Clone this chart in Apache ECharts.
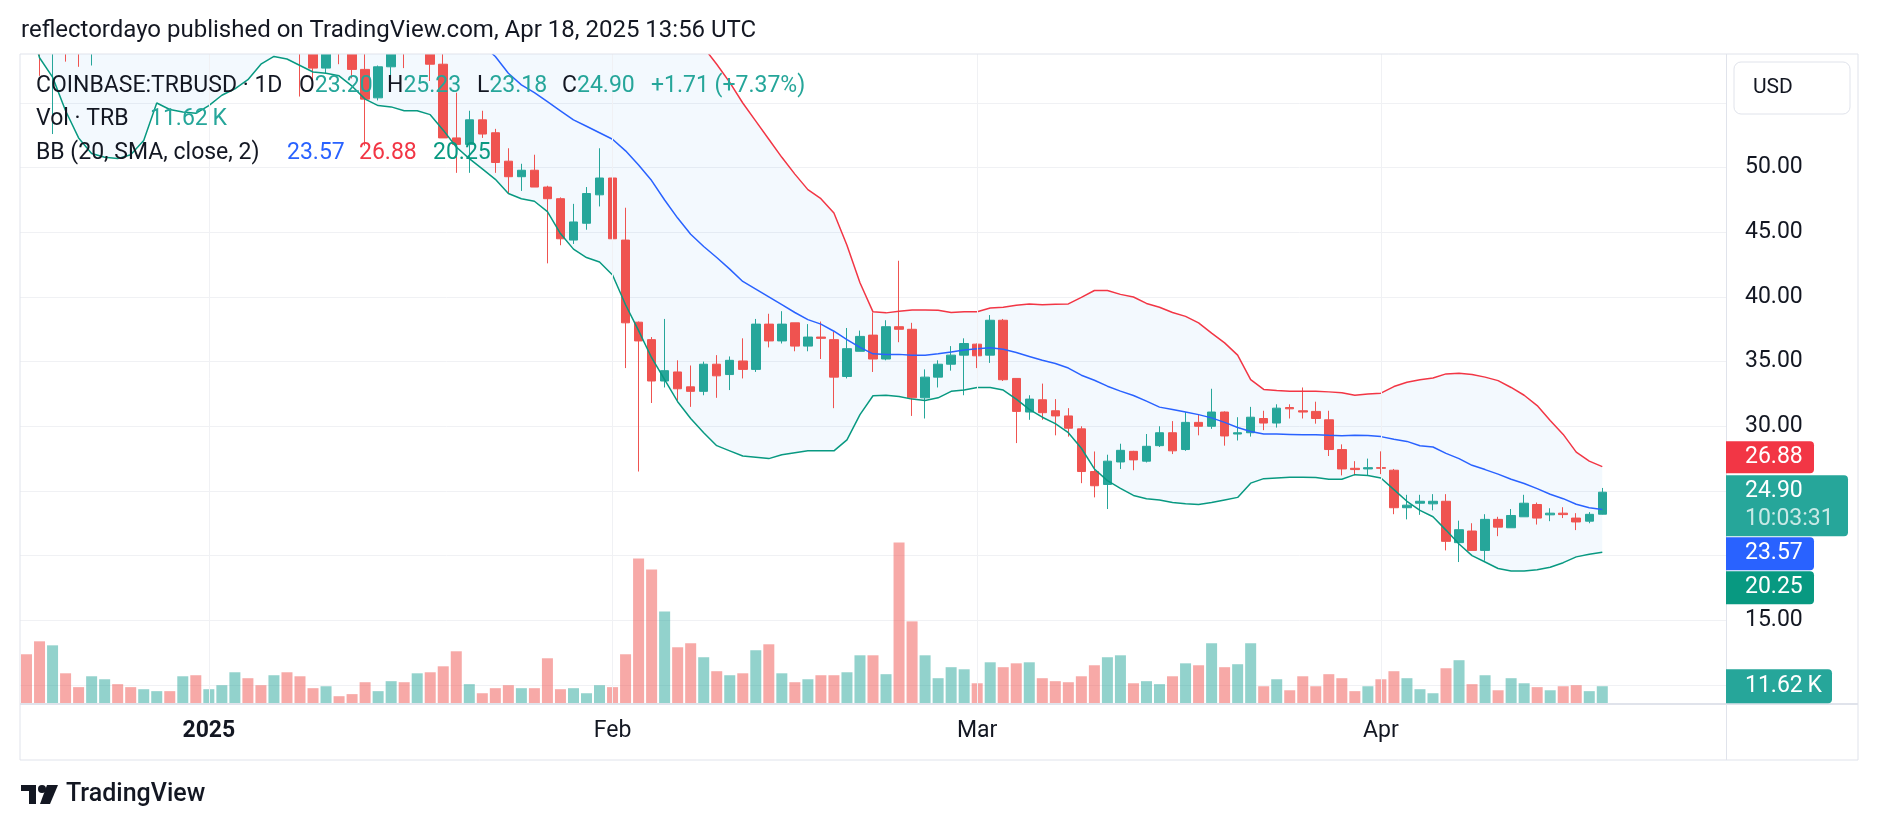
<!DOCTYPE html>
<html>
<head>
<meta charset="utf-8">
<script src="https://cdn.jsdelivr.net/npm/echarts@6/dist/echarts.min.js"></script>
<style>
html,body{margin:0;padding:0;background:#fff;}
#chart{width:1878px;height:830px;}
</style>
</head>
<body>
<div id="chart"></div>
<script>
// COINBASE:TRBUSD 1D, first candle 2024-12-18, last 2025-04-18
const firstDay = '2024-12-18';
const emptyDays = 9;

// candles (the first ~20 sit above the visible price range and get clipped)
const opens = [
  64.0, 61.0, 60.2, 62.0, 60.0, 59.3, 61.5, 63.0, 61.2, 60.3,      // Dec 18
  62.0, 62.8, 61.5, 63.0, 61.8, 62.5, 65.0, 67.0, 64.0, 62.5,      // Dec 28
  63.5, 61.0, 59.3, 57.7, 59.2, 59.0, 57.6, 55.4, 57.8, 59.8,      // Jan 7
  59.0, 60.8, 58.0, 52.3, 51.8, 53.7, 52.7, 50.5, 49.3, 49.8,      // Jan 17
  48.5, 47.6, 44.4, 45.7, 47.9, 49.2, 44.4, 38.05, 36.7, 33.5,     // Jan 27
  34.2, 33.05, 32.7, 34.8, 34.0, 35.05, 34.4, 37.9, 36.6, 38.0,    // Feb 6
  36.2, 36.9, 36.7, 33.85, 35.8, 37.05, 35.2, 37.7, 37.5, 32.2,    // Feb 16
  33.8, 34.8, 35.5, 36.35, 35.5, 38.2, 33.7, 31.1, 32.05, 31.2,    // Feb 26
  30.8, 29.8, 26.5, 25.5, 27.24, 28.06, 27.3, 28.5, 29.5, 28.2,    // Mar 8
  30.3, 30.0, 31.1, 29.4, 29.5, 30.6, 30.25, 31.45, 31.2, 31.15,   // Mar 18
  30.5, 28.2, 26.75, 26.7, 26.8, 26.6, 23.7, 24.05, 24.0, 24.2,    // Mar 28
  21.0, 21.9, 20.4, 22.8, 22.15, 23.0, 23.95, 23.15, 23.28, 22.9,  // Apr 7
  22.66, 23.20
];
const highs = [
  66.5, 62.5, 63.5, 63.0, 61.0, 62.5, 64.0, 63.8, 62.0, 62.5,
  63.5, 63.2, 63.5, 63.8, 63.0, 66.0, 68.0, 67.5, 65.0, 64.5,
  64.5, 62.0, 60.0, 59.5, 59.8, 59.5, 59.5, 57.9, 60.5, 60.3,
  61.5, 61.2, 59.5, 55.8, 54.4, 54.4, 53.0, 51.5, 50.3, 51.0,
  48.6, 47.7, 47.2, 48.5, 51.5, 50.5, 46.9, 38.1, 36.9, 38.3,
  35.1, 34.7, 35.0, 35.5, 35.4, 36.8, 38.3, 38.7, 38.9, 38.0,
  37.9, 38.1, 37.3, 37.6, 37.4, 38.8, 38.2, 42.8, 38.0, 34.4,
  35.1, 36.2, 36.8, 36.4, 38.6, 38.3, 33.7, 32.4, 33.3, 32.1,
  31.4, 30.0, 28.05, 27.8, 28.65, 28.1, 29.4, 30.0, 30.4, 31.1,
  30.9, 32.9, 31.15, 30.7, 31.5, 31.2, 31.7, 31.7, 33.0, 31.9,
  31.2, 28.6, 27.3, 27.5, 28.06, 26.7, 24.7, 24.7, 24.75, 24.75,
  22.7, 22.5, 23.2, 23.0, 23.6, 24.7, 24.1, 23.66, 23.74, 23.28,
  23.36, 25.23
];
const lows = [
  60.0, 57.1, 52.6, 58.2, 57.8, 57.9, 60.0, 60.5, 59.5, 59.6,
  61.0, 60.8, 61.0, 61.0, 60.5, 62.0, 64.0, 63.5, 61.5, 61.0,
  60.0, 55.5, 56.7, 57.3, 58.0, 56.9, 51.7, 55.2, 56.9, 57.7,
  58.9, 56.7, 52.3, 49.6, 49.6, 52.3, 49.6, 48.0, 48.2, 48.5,
  42.6, 44.0, 44.1, 45.2, 47.0, 44.2, 34.5, 26.5, 31.8, 33.0,
  32.0, 31.5, 32.4, 32.2, 32.8, 33.7, 34.2, 36.1, 36.4, 35.8,
  35.8, 35.2, 31.4, 33.7, 35.8, 34.2, 35.1, 36.5, 30.8, 30.6,
  33.0, 34.3, 32.4, 34.5, 34.9, 33.5, 28.7, 30.5, 30.5, 29.3,
  29.2, 25.6, 24.5, 23.6, 26.7, 26.6, 27.2, 28.4, 27.85, 28.1,
  29.3, 29.8, 28.5, 28.9, 29.2, 29.7, 29.9, 30.6, 30.6, 30.2,
  27.7, 26.2, 26.2, 26.2, 26.3, 23.2, 22.8, 23.15, 23.5, 20.4,
  19.5, 20.37, 19.6, 21.5, 22.15, 23.0, 22.4, 22.66, 22.9, 21.97,
  22.5, 23.18
];
const closes = [
  61.0, 60.2, 62.0, 60.0, 59.3, 61.5, 63.0, 61.2, 60.3, 62.0,
  62.8, 61.5, 63.0, 61.8, 62.5, 65.0, 67.0, 64.0, 62.5, 63.5,
  61.0, 59.3, 57.7, 59.2, 59.0, 57.6, 55.3, 57.8, 59.8, 59.0,
  60.8, 58.0, 52.3, 51.8, 53.7, 52.6, 50.4, 49.3, 49.8, 48.5,
  47.6, 44.5, 45.8, 48.0, 49.2, 44.5, 38.0, 36.6, 33.5, 34.3,
  32.9, 32.7, 34.8, 33.9, 35.1, 34.4, 37.9, 36.6, 37.9, 36.2,
  36.9, 36.8, 33.8, 36.0, 36.95, 35.2, 37.7, 37.5, 32.2, 33.8,
  34.8, 35.5, 36.4, 35.45, 38.2, 33.6, 31.15, 32.1, 31.05, 30.8,
  29.85, 26.5, 25.4, 27.3, 28.14, 27.4, 28.45, 29.5, 28.1, 30.3,
  30.0, 31.1, 29.25, 29.5, 30.7, 30.25, 31.4, 31.35, 31.1, 30.6,
  28.2, 26.7, 26.65, 26.8, 26.75, 23.7, 23.9, 24.2, 24.2, 21.1,
  22.0, 20.4, 22.8, 22.2, 23.1, 24.05, 22.9, 23.28, 23.17, 22.6,
  23.19, 24.90
];
// volume, thousands of TRB
const volumes = [
  33.1, 41.8, 39.1, 20.3, 11.0, 18.3, 16.3, 13.0, 11.0, 9.6,
  8.3, 8.3, 18.3, 19.0, 9.6, 12.3, 21.0, 17.0, 12.3, 19.0,
  21.0, 18.3, 10.3, 11.6, 4.9, 6.3, 14.3, 8.3, 15.0, 14.3,
  20.3, 21.0, 25.0, 35.1, 13.0, 6.9, 10.3, 12.3, 10.3, 10.3,
  30.4, 9.6, 10.3, 6.9, 12.3, 11.0, 33.1, 97.4, 90.1, 61.9,
  37.8, 40.5, 31.1, 21.7, 19.0, 20.3, 35.8, 39.8, 20.3, 14.3,
  16.3, 19.0, 19.0, 21.0, 32.4, 32.4, 19.7, 108.2, 55.2, 32.4,
  17.0, 24.4, 23.0, 13.6, 27.7, 24.4, 27.0, 27.7, 17.0, 15.0,
  14.3, 18.3, 25.7, 31.1, 32.4, 13.6, 15.0, 13.0, 18.3, 27.0,
  25.7, 40.5, 24.4, 26.4, 40.5, 11.6, 16.3, 8.9, 18.3, 11.6,
  19.7, 17.0, 8.3, 11.6, 16.3, 21.7, 17.0, 9.6, 6.9, 23.7,
  29.1, 13.0, 19.0, 8.9, 17.0, 13.6, 11.0, 8.9, 11.6, 12.3,
  8.3, 11.62
];
// Bollinger bands (20, SMA, close, 2) as drawn
const bbUpper = [
  72.0, 72.5, 73.0, 73.2, 73.0, 72.6, 72.2, 71.8, 71.5, 71.2,
  70.0, 69.8, 69.6, 69.4, 69.0, 68.6, 68.4, 68.3, 68.2, 68.0,
  67.8, 67.6, 67.4, 67.2, 67.0, 66.9, 66.8, 66.7, 66.6, 66.5,
  66.4, 66.3, 66.2, 66.0, 65.8, 65.6, 65.4, 65.2, 65.0, 64.8,
  64.6, 64.4, 64.2, 64.0, 63.7, 63.4, 63.1, 62.7, 62.3, 61.8,
  61.2, 60.6, 59.3, 58.0, 56.6, 55.0, 53.6, 52.2, 50.8, 49.5,
  48.3, 47.6, 46.5, 44.0, 41.1, 38.85, 38.77, 38.9, 39.0, 39.0,
  38.97, 38.8, 38.85, 38.85, 39.15, 39.2, 39.36, 39.46, 39.4, 39.44,
  39.46, 39.97, 40.5, 40.5, 40.2, 40.0, 39.5, 39.2, 38.8, 38.5,
  38.0, 37.2, 36.45, 35.5, 33.6, 32.85, 32.76, 32.7, 32.7, 32.7,
  32.66, 32.6, 32.4, 32.5, 32.56, 33.07, 33.4, 33.6, 33.74, 34.05,
  34.1, 34.0, 33.8, 33.53, 33.0, 32.4, 31.6, 30.45, 29.37, 28.0,
  27.3, 26.88
];
const bbBasis = [
  66.5, 66.3, 66.0, 65.6, 65.2, 64.9, 64.6, 64.3, 64.0, 63.8,
  63.9, 63.7, 63.5, 63.3, 63.1, 63.0, 63.0, 62.9, 62.8, 62.7,
  62.6, 62.4, 62.2, 62.0, 61.8, 61.6, 61.4, 61.2, 61.0, 60.9,
  60.8, 60.7, 60.4, 60.0, 59.9, 59.5, 58.6, 57.3, 56.4, 55.8,
  55.1, 54.4, 53.7, 53.2, 52.7, 52.2, 51.3, 50.2, 49.0, 47.5,
  46.1, 44.85, 43.9, 43.05, 42.15, 41.2, 40.6, 40.0, 39.4, 38.8,
  38.25, 37.9, 37.35, 36.7, 36.1, 35.6, 35.56, 35.56, 35.5, 35.5,
  35.6, 35.74, 35.9, 36.0, 36.08, 35.95, 35.7, 35.4, 35.1, 34.85,
  34.5, 33.95, 33.56, 33.1, 32.72, 32.38, 31.94, 31.48, 31.3, 31.1,
  30.9, 30.65, 30.3, 29.9, 29.6, 29.4, 29.4, 29.37, 29.34, 29.34,
  29.3, 29.27, 29.3, 29.28, 29.2, 29.0, 28.83, 28.5, 28.4, 27.9,
  27.5, 26.98, 26.65, 26.3, 25.9, 25.57, 25.18, 24.74, 24.4, 23.97,
  23.7, 23.57
];
const bbLower = [
  62.0, 58.5, 57.0, 54.4, 52.3, 51.1, 50.8, 50.7, 51.0, 52.1,
  55.0, 54.5, 54.3, 54.2, 54.8, 55.6, 56.1, 56.8, 58.0, 58.6,
  58.4, 57.9, 57.4, 57.3, 57.1, 56.3, 55.3, 54.8, 54.7, 54.4,
  54.4, 54.1, 52.9, 51.6, 50.7, 49.9, 49.1, 48.0, 47.6, 47.4,
  46.6, 44.9, 43.7, 43.05, 42.7, 41.7, 39.4, 37.4, 35.3, 33.6,
  31.9, 30.6, 29.5, 28.5, 28.1, 27.7, 27.6, 27.5, 27.8, 27.95,
  28.1, 28.1, 28.1, 28.95, 30.9, 32.36, 32.4, 32.3, 32.1, 32.0,
  32.2, 32.7, 32.8, 33.0, 33.0, 32.8, 32.1, 31.3, 30.7, 30.2,
  29.5, 28.3, 26.7, 25.8, 25.2, 24.65, 24.4, 24.3, 24.1, 24.0,
  23.95, 24.1, 24.3, 24.5, 25.6, 25.95, 26.0, 26.05, 26.05, 26.03,
  25.9, 25.9, 26.26, 26.2, 26.0, 25.1, 24.2, 23.5, 23.0, 21.97,
  20.9, 20.0, 19.5, 19.0, 18.8, 18.8, 18.9, 19.1, 19.45, 19.9,
  20.1, 20.25
];
const monthLabels = {'01': '2025', '02': 'Feb', '03': 'Mar', '04': 'Apr'};
const priceTicks = [10, 55];   // gridline range on the price scale

const upColor = '#26a69a';
const downColor = '#ef5350';
const gridColor = '#f0f1f4';
const textColor = '#131722';
const font = 'Roboto, "Noto Sans", sans-serif';

const dates = [];
const d0 = new Date(firstDay + 'T00:00:00Z');
for (let i = 0; i < opens.length + emptyDays; i++) {
  dates.push(new Date(d0.getTime() + i * 86400000).toISOString().slice(0, 10));
}
const isMonthStart = (v) => v.slice(8) === '01' && monthLabels[v.slice(5, 7)] && v.slice(0, 4) === '2025';

const candles = opens.map((o, i) => [o, closes[i], lows[i], highs[i]]);
const volBars = volumes.map((v, i) => ({
  value: v,
  itemStyle: {color: closes[i] >= opens[i] ? 'rgba(38,166,154,0.5)' : 'rgba(239,83,80,0.5)'}
}));
const bandWidth = bbUpper.map((u, i) => +(u - bbLower[i]).toFixed(3));

const n = opens.length;
const lastClose = closes[n - 1];
const change = lastClose - closes[n - 2];
const pct = change / closes[n - 2] * 100;

const plotLeft = 20, plotWidth = 1706, plotTop = 54, plotBottom = 703.5;

function xAxisFor(gridIndex, showLabels) {
  return {
    type: 'category', gridIndex: gridIndex, data: dates, boundaryGap: true,
    axisLine: {show: false}, axisTick: {show: false}, splitLine: {show: false},
    axisLabel: showLabels ? {
      show: true, margin: 16, fontFamily: font, fontSize: 23, color: textColor,
      interval: (idx, v) => !!isMonthStart(v),
      formatter: (v) => {
        const m = v.slice(5, 7);
        return m === '01' ? '{b|' + monthLabels[m] + '}' : monthLabels[m];
      },
      rich: {b: {fontWeight: 'bold', fontSize: 23, fontFamily: font, color: textColor}}
    } : {show: false}
  };
}

const option = {
  animation: false,
  backgroundColor: '#ffffff',
  grid: [
    {left: plotLeft, width: plotWidth, top: plotTop, height: plotBottom - plotTop},
    {left: plotLeft, width: plotWidth, top: plotBottom - 180, height: 180},
    {left: plotLeft, width: plotWidth, top: 103.05, height: 684.9 - 103.05}
  ],
  xAxis: [xAxisFor(0, true), xAxisFor(1, false), xAxisFor(2, false)],
  yAxis: [
    {type: 'value', gridIndex: 0, min: 8.56, max: 58.79, show: false},
    {type: 'value', gridIndex: 1, min: 0, max: 121, show: false},
    {type: 'value', gridIndex: 2, position: 'right', min: priceTicks[0], max: priceTicks[1], interval: 5,
     axisLine: {show: false}, axisTick: {show: false},
     splitLine: {show: true, lineStyle: {color: gridColor, width: 1}},
     axisLabel: {margin: 19, fontFamily: font, fontSize: 23, color: textColor,
                 formatter: (v) => v.toFixed(2)}}
  ],
  series: [
    {
      name: 'volume', type: 'bar', xAxisIndex: 1, yAxisIndex: 1,
      data: volBars, barWidth: 11, z: 1
    },
    {
      name: 'bbBase', type: 'line', xAxisIndex: 0, yAxisIndex: 0, stack: 'bb',
      data: bbLower, symbol: 'none', lineStyle: {opacity: 0}, z: 1, silent: true,
      markLine: {
        silent: true, symbol: ['none', 'none'], label: {show: false},
        lineStyle: {color: gridColor, type: 'solid', width: 1},
        data: dates.filter(isMonthStart).map((v) => ({xAxis: v}))
      }
    },
    {
      name: 'bbFill', type: 'line', xAxisIndex: 0, yAxisIndex: 0, stack: 'bb',
      data: bandWidth, symbol: 'none', lineStyle: {opacity: 0}, z: 1, silent: true,
      areaStyle: {color: 'rgba(33,150,243,0.055)', opacity: 1}
    },
    {
      name: 'price', type: 'candlestick', xAxisIndex: 0, yAxisIndex: 0,
      data: candles, barWidth: 9, z: 3, clip: true,
      itemStyle: {color: upColor, color0: downColor, borderColor: upColor, borderColor0: downColor, borderWidth: 1}
    },
    {
      name: 'upper', type: 'line', xAxisIndex: 0, yAxisIndex: 0, data: bbUpper,
      symbol: 'none', lineStyle: {color: '#f23645', width: 1.5}, z: 4, clip: true
    },
    {
      name: 'basis', type: 'line', xAxisIndex: 0, yAxisIndex: 0, data: bbBasis,
      symbol: 'none', lineStyle: {color: '#2962ff', width: 1.5}, z: 4, clip: true
    },
    {
      name: 'lower', type: 'line', xAxisIndex: 0, yAxisIndex: 0, data: bbLower,
      symbol: 'none', lineStyle: {color: '#089981', width: 1.5}, z: 4, clip: true
    }
  ]
};

const chart = echarts.init(document.getElementById('chart'), null, {renderer: 'canvas'});
chart.setOption(option);

// ---- overlay: frame, legend texts, price scale boxes, footer ----
const yPx = (v) => chart.convertToPixel({yAxisIndex: 0}, v);
const yVol = (v) => chart.convertToPixel({yAxisIndex: 1}, v);

function txt(x, y, text, color, size, extra, weight) {
  return Object.assign({
    type: 'text', x: x, y: y, z: 100,
    style: {text: text, fill: color, font: (weight || 'normal') + ' ' + (size || 23) + 'px ' + font, textVerticalAlign: 'middle'}
  }, extra || {});
}
function box(x, y, w, h, color, z) {
  return {type: 'rect', z: z || 110, shape: {x: x, y: y, width: w, height: h, r: [0, 4, 4, 0]}, style: {fill: color}};
}

const fmt = (v) => v.toFixed(2);
const kv = (x, k, v) => ({
  type: 'text', x: x, y: 86, z: 100,
  style: {
    text: '{k|' + k + '}{v|' + v + '}', textVerticalAlign: 'middle', font: '23px ' + font,
    rich: {k: {fill: textColor, fontSize: 23, fontFamily: font}, v: {fill: upColor, fontSize: 23, fontFamily: font}}
  }
});

const axisX = plotLeft + plotWidth;
const closeTop = yPx(lastClose) - 17;
const closeBottom = closeTop + 61;
const upperTop = Math.min(yPx(bbUpper[n - 1]) - 16, closeTop - 34);
const basisTop = Math.max(yPx(bbBasis[n - 1]) - 16, closeBottom + 1);
const lowerTop = Math.max(yPx(bbLower[n - 1]) - 16, basisTop + 34);
const volY = yVol(volumes[n - 1]);

const graphics = [
  // everything above the pane top is cut off, as in the original
  {type: 'rect', z: 95, shape: {x: 0, y: 0, width: 1878, height: plotTop}, style: {fill: '#fff'}},
  // frame
  {type: 'rect', z: 96, shape: {x: 20, y: plotTop, width: 1838, height: 706}, style: {fill: 'none', stroke: '#e0e3eb', lineWidth: 1}},
  {type: 'line', z: 96, shape: {x1: 20, y1: plotBottom + 0.5, x2: 1858, y2: plotBottom + 0.5}, style: {stroke: '#e0e3eb', lineWidth: 2}},
  {type: 'line', z: 96, shape: {x1: axisX + 0.5, y1: plotTop, x2: axisX + 0.5, y2: 760}, style: {stroke: '#e0e3eb', lineWidth: 1}},
  // header
  txt(21, 31, 'reflectordayo published on TradingView.com, Apr 18, 2025 13:56 UTC', textColor, 24),
  // legend
  txt(36, 86, 'COINBASE:TRBUSD · 1D', textColor, 23),
  kv(299, 'O', fmt(opens[n - 1])),
  kv(387, 'H', fmt(highs[n - 1])),
  kv(477, 'L', fmt(lows[n - 1])),
  kv(562, 'C', fmt(lastClose)),
  txt(651, 86, '+' + fmt(change) + ' (+' + fmt(pct) + '%)', upColor, 23),
  txt(36, 119, 'Vol · TRB', textColor, 23),
  txt(150, 119, volumes[n - 1].toFixed(2) + '\u2009K', upColor, 23),
  txt(36, 153, 'BB (20, SMA, close, 2)', textColor, 23),
  txt(287, 153, fmt(bbBasis[n - 1]), '#2962ff', 23),
  txt(359, 153, fmt(bbUpper[n - 1]), '#f23645', 23),
  txt(433, 153, fmt(bbLower[n - 1]), '#089981', 23),
  // currency button
  {type: 'rect', z: 105, shape: {x: 1734, y: 62, width: 116, height: 52, r: 7}, style: {fill: '#fff', stroke: '#e0e3eb', lineWidth: 1}},
  txt(1753, 88, 'USD', textColor, 21, {z: 106}),
  // scale labels
  box(axisX, upperTop, 88, 32, '#f23645'),
  txt(1745, upperTop + 16, fmt(bbUpper[n - 1]), '#fff', 23, {z: 111}),
  box(axisX, closeTop, 122, 61, upColor),
  txt(1745, closeTop + 16, fmt(lastClose), '#fff', 23, {z: 111}),
  txt(1745, closeTop + 44, '10:03:31', 'rgba(255,255,255,0.75)', 23, {z: 111}),
  box(axisX, basisTop, 88, 33, '#2962ff'),
  txt(1745, basisTop + 16, fmt(bbBasis[n - 1]), '#fff', 23, {z: 111}),
  box(axisX, lowerTop, 88, 33, '#089981'),
  txt(1745, lowerTop + 16, fmt(bbLower[n - 1]), '#fff', 23, {z: 111}),
  box(axisX, volY - 17, 106, 34, upColor),
  txt(1745, volY, volumes[n - 1].toFixed(2) + '\u2009K', '#fff', 23, {z: 111}),
  // footer logo
  {type: 'rect', z: 100, shape: {x: 21, y: 785, width: 15, height: 6}, style: {fill: textColor}},
  {type: 'rect', z: 100, shape: {x: 29, y: 785, width: 7, height: 19}, style: {fill: textColor}},
  {type: 'circle', z: 100, shape: {cx: 42, cy: 789, r: 4}, style: {fill: textColor}},
  {type: 'polygon', z: 100, shape: {points: [[47, 785], [58, 785], [50, 804], [40, 804]]}, style: {fill: textColor}},
  txt(66, 795, 'TradingView', textColor, 25, null, '500')
];

chart.setOption({graphic: graphics});
</script>
</body>
</html>
